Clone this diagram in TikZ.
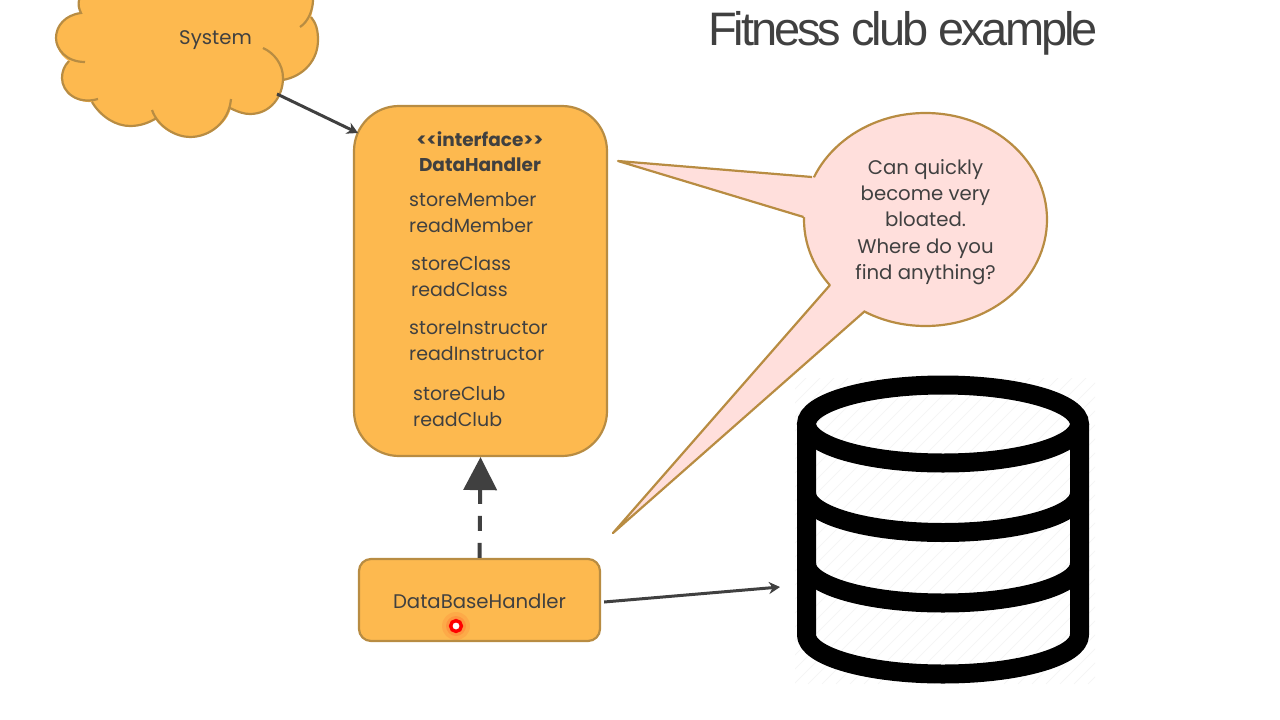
\documentclass[tikz,border=0pt]{standalone}
\usepackage{fontspec}
\setmainfont{Poppins}
\newfontfamily\titlefont[LetterSpace=-6.5]{Liberation Sans}
\usetikzlibrary{arrows.meta,shapes.geometric}
\definecolor{boxfill}{HTML}{FDB94F}
\definecolor{boxline}{HTML}{B88C42}
\definecolor{notefill}{HTML}{FFDFDC}
\definecolor{inkgray}{HTML}{404040}
\tikzset{
    boxtext/.style={text=inkgray,font=\fontsize{19}{26}\selectfont,align=left,inner sep=0pt},
    nametext/.style={text=inkgray,font=\fontsize{19.7}{26.2}\selectfont,align=center,inner sep=0pt},
    classbox/.style={draw=boxline,fill=boxfill,line width=2.2pt,inner sep=0pt},
    link/.style={draw=inkgray,line width=3pt,-{Stealth[length=11pt,width=12pt]}}
}
\begin{document}
\begin{tikzpicture}[x=1pt,y=-1pt]
\useasboundingbox (0,0) rectangle (1280,720);
\node [text=inkgray,font=\titlefont\fontsize{47}{52}\selectfont] (title) at (903,33) {Fitness club example};
% cloud
\fill [boxfill]
    (79,0) .. controls (78,5) and (79,9) .. (81,13)
    .. controls (65,15) and (56,26) .. (56,38)
    .. controls (56,49) and (62,57) .. (69,61)
    .. controls (64,66) and (62,72) .. (62,78)
    .. controls (62,92) and (75,103) .. (92,102)
    .. controls (101,117) and (116,126) .. (130,126)
    .. controls (140,126) and (148,123) .. (155,119)
    .. controls (162,130) and (176,137) .. (190,137)
    .. controls (210,137) and (227,124) .. (231,108)
    .. controls (238,112) and (244,114) .. (250,114)
    .. controls (268,114) and (281,97) .. (283,80)
    .. controls (304,76) and (318,60) .. (318,40)
    .. controls (318,30) and (316,23) .. (311,17)
    .. controls (313,11) and (313,5) .. (313,0) -- cycle;
\draw [boxline,line width=2.2pt]
    (79,0) .. controls (78,5) and (79,9) .. (81,13)
    .. controls (65,15) and (56,26) .. (56,38)
    .. controls (56,49) and (66,62) .. (85,62)
    (69,61) .. controls (64,66) and (62,72) .. (62,78)
    .. controls (62,92) and (77,105) .. (98,99)
    (92,102) .. controls (101,117) and (116,126) .. (130,126)
    .. controls (140,126) and (148,123) .. (155,119)
    (152,110) .. controls (158,127) and (176,137) .. (190,137)
    .. controls (210,137) and (229,122) .. (231,99)
    (230,108) .. controls (238,112) and (244,114) .. (250,114)
    .. controls (270,114) and (283,97) .. (283,78)
    .. controls (283,64) and (274,53) .. (263,48)
    (283,80) .. controls (304,76) and (318,60) .. (318,40)
    .. controls (318,30) and (316,23) .. (311,17)
    (313,0) .. controls (313,10) and (308,22) .. (300,27);
\node [nametext] (system) at (215.5,40) {System};
\coordinate (systemout) at (277,94);
\coordinate (handlerin) at (358,133);
% interface
\node [classbox,rounded corners=45pt,minimum width=253pt,minimum height=350pt] (DataHandler) at (480.5,281) {};
\node [boxtext,align=center,font=\bfseries\fontsize{18.5}{25}\selectfont] (interface) at (480,152) {<{}<interface>{}>\\DataHandler};
\node [boxtext,anchor=west] (member) at (409,213) {storeMember\\readMember};
\node [boxtext,anchor=west] (class) at (411,277) {storeClass\\readClass};
\node [boxtext,anchor=west] (instructor) at (409,341) {storeInstructor\\readInstructor};
\node [boxtext,anchor=west] (club) at (413,407) {storeClub\\readClub};
\node [classbox,rounded corners=12pt,minimum width=241pt,minimum height=82pt] (DataBaseHandler) at (479.5,600) {};
\node [nametext] (handlername) at (479.5,601) {DataBaseHandler};
% speech bubble
\node [ellipse,draw=boxline,fill=notefill,line width=2.2pt,minimum width=243pt,minimum height=213pt,inner sep=0pt] (note) at (925.5,219.5) {};
\node [nametext] (notetext) at (925.5,222) {Can quickly\\become very\\bloated.\\Where do you\\find anything?};
\coordinate (tipa) at (618,161);
\coordinate (tipb) at (613,533);
\fill [notefill] (812,177) -- (tipa) -- (803.5,217) -- (815,217) -- (825,180) -- cycle;
\fill [notefill] (830,285) -- (tipb) -- (865,311) -- (870,300) -- (838,280) -- cycle;
\draw [boxline,line width=2.2pt,line join=round] (812,177) -- (tipa) -- (803.5,217);
\draw [boxline,line width=2.2pt,line join=round] (830,285) -- (tipb) -- (865,311);
% database
\begin{scope}
\clip (795,378) rectangle (1095,684);
\foreach \stripe in {0,14,...,600}
    \draw [black!4,line width=1pt] (500+\stripe,684) -- ++(306,-306);
\end{scope}
\draw [black,line width=19pt] (943,424) ellipse [x radius=136.5,y radius=39];
\draw [black,line width=19pt,line join=round]
    (806.5,424) -- (806.5,635) .. controls +(0,21.5) and +(-75.4,0) .. ++(136.5,39)
    .. controls +(75.4,0) and +(0,21.5) .. ++(136.5,-39) -- (1079.5,424);
\foreach \band in {493.5,564}
    \draw [black,line width=19pt]
    (806.5,\band) .. controls +(0,21.5) and +(-75.4,0) .. ++(136.5,39)
    .. controls +(75.4,0) and +(0,21.5) .. ++(136.5,-39);
\coordinate (databasein) at (780,587);
% connectors
\draw [link] (systemout) -- (handlerin);
\draw [link] ([shift={(3,2)}]DataBaseHandler.east) -- (databasein);
\draw [draw=inkgray,line width=4pt,dash pattern=on 15pt off 12pt,
    -{Triangle[length=33pt,width=33pt,fill=inkgray]}] (DataBaseHandler.north) -- (DataHandler.south);
% pointer
\fill [red,opacity=.08] (456,626) circle (14);
\fill [red,opacity=.12] (456,626) circle (10);
\draw [red,line width=3.4pt,fill=white] (456,626) circle (5.4);
\end{tikzpicture}
\end{document}
